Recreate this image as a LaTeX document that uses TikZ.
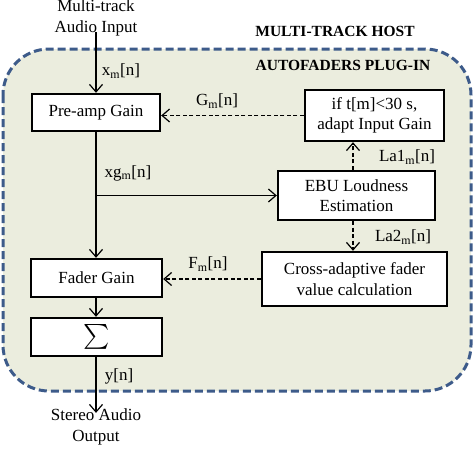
\documentclass[tikz,border=0pt]{standalone}
\usepackage{fontspec}
\setmainfont{Liberation Serif}
\usepackage{amsmath}
\usetikzlibrary{arrows.meta}
\definecolor{hostfill}{HTML}{EBEDDE}
\definecolor{hostline}{HTML}{3D5B8A}

\begin{document}
\begin{tikzpicture}[x=1pt,y=-1pt]
\tikzset{block/.style = {draw,fill=white,line width=2.4pt,align=center,inner sep=1pt,font=\fontsize{17}{20.5}\selectfont}}
\tikzset{edge/.style = {-{Straight Barb[length=7.5pt,width=13pt,line width=1.2pt]},line width=1.2pt}}
\tikzset{dashedge/.style = {edge,dash pattern=on 4pt off 2.5pt}}
\tikzset{lbl/.style = {font=\fontsize{17}{20.5}\selectfont,inner sep=0pt}}
\tikzset{title/.style = {font=\fontsize{15.5}{18}\selectfont\bfseries,inner sep=0pt}}
\useasboundingbox (0,0) rectangle (474,448);
% host frame
\draw[hostline,fill=hostfill,line width=3pt,dash pattern=on 8pt off 4pt,rounded corners=46pt] (3,49) rectangle (471,391);
\node[title] (host) at (335,31) {MULTI-TRACK HOST};
\node[title] (plugin) at (343,65) {AUTOFADERS PLUG-IN};
% blocks
\node[block,minimum width=128pt,minimum height=37pt] (preamp) at (96,112.5) {Pre-amp Gain};
\node[block,minimum width=139pt,minimum height=51pt] (adapt) at (374.5,115.5) {if t[m]\textless30 s,\\adapt Input Gain};
\node[block,minimum width=157pt,minimum height=49pt] (ebu) at (356.5,195.5) {EBU Loudness\\Estimation};
\node[block,minimum width=185pt,minimum height=54pt] (cross) at (354.5,279) {Cross-adaptive fader\\value calculation};
\node[block,minimum width=131pt,minimum height=38pt] (fader) at (96.5,278) {Fader Gain};
\node[block,minimum width=131pt,minimum height=38pt] (sum) at (96.5,337) {\fontsize{27}{27}\selectfont$\boldsymbol{\sum}$};
% in and out
\node[lbl,align=center] (in) at (96,18) {Multi-track\\Audio Input};
\node[lbl,align=center] (out) at (96,427) {Stereo Audio\\Output};
\coordinate (split) at (96,195.5);

%edges
\draw[edge] ([yshift=4pt]in.south) -- (preamp.north);
\draw[line width=1.2pt] (preamp.south) -- (split);
\draw[edge] (split) -- (fader.north -| split);
\draw[edge] (split) -- (ebu.west);
\draw[edge] (fader.south -| split) -- (sum.north -| split);
\draw[edge] (sum.south -| split) -- ([yshift=-4pt]out.north);
\draw[dashedge] (adapt.west) -- (adapt.west -| preamp.east);
\draw[dashedge] ([xshift=-3.5pt]ebu.north) -- ([xshift=-3.5pt]ebu.north |- adapt.south);
\draw[dashedge] ([xshift=-3.5pt]ebu.south) -- ([xshift=-3.5pt]ebu.south |- cross.north);
\draw[dashedge] (cross.west) -- (cross.west -| fader.east);
% labels
\node[lbl] (xlbl) at (121,71) {x\textsubscript{m}[n]};
\node[lbl] (glbl) at (217,101) {G\textsubscript{m}[n]};
\node[lbl] (xglbl) at (128,173) {xg\textsubscript{m}[n]};
\node[lbl] (la1lbl) at (407,157) {La1\textsubscript{m}[n]};
\node[lbl] (la2lbl) at (403,237) {La2\textsubscript{m}[n]};
\node[lbl] (flbl) at (208,264) {F\textsubscript{m}[n]};
\node[lbl] (ylbl) at (119,376) {y[n]};
\end{tikzpicture}
\end{document}
